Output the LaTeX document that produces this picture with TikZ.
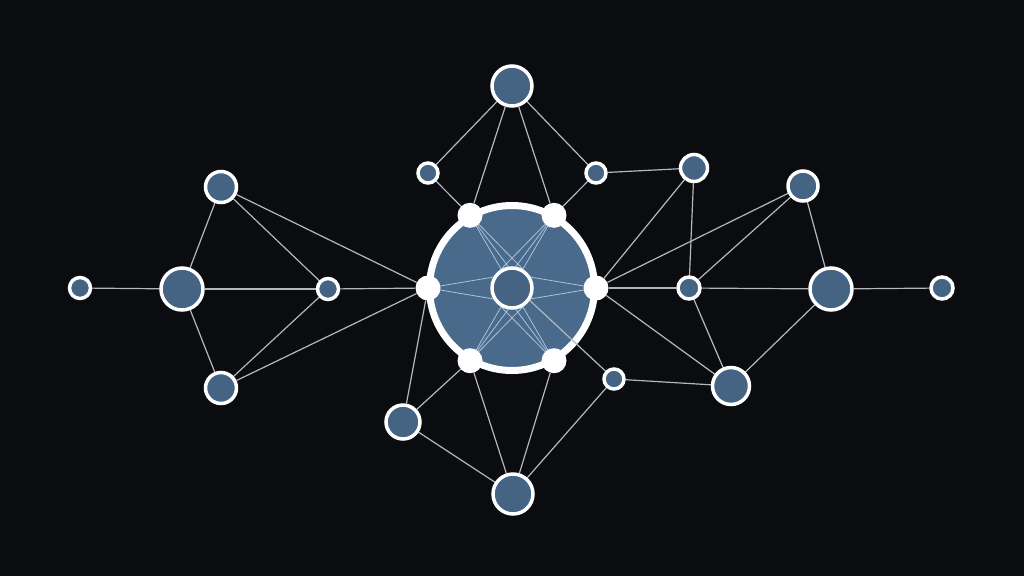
\documentclass[tikz,border=0pt]{standalone}
\usetikzlibrary{calc}
\definecolor{bgc}{RGB}{10,12,15}
\definecolor{nodeblue}{RGB}{69,99,130}
\definecolor{bigblue}{RGB}{74,106,140}
\definecolor{edgec}{RGB}{180,184,190}
\definecolor{innerc}{RGB}{170,195,220}
\pgfdeclarelayer{background}
\pgfdeclarelayer{edges}
\pgfsetlayers{background,edges,main}
\tikzset{
  nd/.style={circle, fill=nodeblue, draw=white, line width=3.5pt, inner sep=0pt, minimum size=#1},
  hx/.style={circle, fill=white, inner sep=0pt, minimum size=25pt},
  ed/.style={draw=edgec, line width=1.2pt},
  ined/.style={draw=innerc, line width=0.8pt},
}
\begin{document}
\begin{tikzpicture}[x=1pt,y=-1pt]
\begin{pgfonlayer}{background}
\fill[bgc] (0,0) rectangle (1024,576);
\node[circle, fill=bigblue, draw=white, line width=7pt, inner sep=0pt, minimum size=165pt] (C) at (512,288) {};
\end{pgfonlayer}
\useasboundingbox (0,0) rectangle (1024,576);

% center and hex nodes
\node[nd=40pt] (Cin) at (512,288) {};
\node[hx] (H0) at (596,288) {};
\node[hx] (H60) at (554,215.3) {};
\node[hx] (H120) at (470,215.3) {};
\node[hx] (H180) at (428,288) {};
\node[hx] (H240) at (470,360.7) {};
\node[hx] (H300) at (554,360.7) {};

% outer nodes
\node[nd=40pt] (T) at (512,86) {};
\node[nd=20pt] (TL) at (428,173) {};
\node[nd=20pt] (TR) at (596,173) {};
\node[nd=27pt] (RU) at (694,168) {};
\node[nd=30pt] (FUR) at (803,186) {};
\node[nd=22pt] (RM) at (689,288) {};
\node[nd=42pt] (RB) at (831,289) {};
\node[nd=22pt] (FR) at (942,288) {};
\node[nd=20pt] (RLS) at (614,379) {};
\node[nd=37pt] (RL) at (731,386) {};
\node[nd=21pt] (FL) at (80,288) {};
\node[nd=42pt] (LB) at (182,289) {};
\node[nd=31pt] (LU) at (221,187) {};
\node[nd=21pt] (LM) at (328,289) {};
\node[nd=31pt] (LL) at (221,388) {};
\node[nd=34pt] (BL) at (403,422) {};
\node[nd=40pt] (B) at (513,494) {};

\begin{pgfonlayer}{edges}
% interior star
\foreach \h/\a/\b in {H180/150/210, H0/30/-30, H120/100/60, H60/80/120, H240/-100/-60, H300/-80/-120}{
  \draw[ined] (\h.center) -- (Cin.\a);
  \draw[ined] (\h.center) -- (Cin.\b);
}
\draw[ined] (H120.center) -- (H300.center);
\draw[ined] (H60.center) -- (H240.center);
% outer edges
\foreach \p/\q in {FL/LB, LB/LU, LB/LL, LB/LM, LU/LM, LU/H180, LL/LM, LL/H180, LM/H180,
  T/TL, T/TR, T/H120, T/H60, TL/H120, TR/H60, TR/RU,
  RU/H0, RU/RM, FUR/H0, FUR/RM, FUR/RB, H0/RM, RM/RB, RB/FR, RB/RL, RM/RL, H0/RL, RLS/RL,
  BL/H180, BL/H240, BL/B, B/H240, B/H300, B/RLS}{
  \draw[ed] (\p) -- (\q);
}
\draw[ed] (Cin.-35) -- (RLS);
\end{pgfonlayer}
\end{tikzpicture}
\end{document}
